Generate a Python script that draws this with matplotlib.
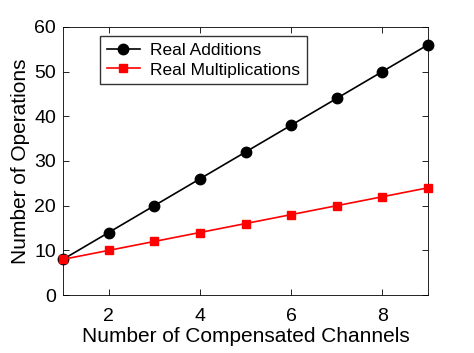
import matplotlib
matplotlib.use("Agg")
import matplotlib.pyplot as plt

plt.rcParams["font.family"] = ["Liberation Sans", "DejaVu Sans"]

channels = [1, 2, 3, 4, 5, 6, 7, 8, 9]
additions = [8, 14, 20, 26, 32, 38, 44, 50, 56]
multiplications = [8, 10, 12, 14, 16, 18, 20, 22, 24]

fig = plt.figure(figsize=(4.74, 3.53), dpi=100)
ax = fig.add_axes([0.133, 0.164, 0.770, 0.760])

ax.plot(channels, additions, color="black", marker="o", markersize=7.5,
        linewidth=1.2, label="Real Additions", clip_on=False, zorder=3)
ax.plot(channels, multiplications, color="red", marker="s", markersize=6,
        linewidth=1.2, label="Real Multiplications", clip_on=False, zorder=4)

ax.set_xlim(1, 9)
ax.set_ylim(0, 60)
ax.set_xticks([2, 4, 6, 8])
ax.set_yticks(range(0, 61, 10))
ax.tick_params(direction="in", top=True, right=True, labelsize=14, length=4, width=0.6)
ax.tick_params(axis="x", pad=9)
ax.tick_params(axis="y", pad=5)
for s in ax.spines.values():
    s.set_linewidth(0.6)

ax.set_xlabel("Number of Compensated Channels", fontsize=15, labelpad=2)
ax.set_ylabel("Number of Operations", fontsize=15, labelpad=3)

leg = ax.legend(loc="upper left", bbox_to_anchor=(0.101, 0.966), borderaxespad=0,
                fontsize=12.5, fancybox=False, framealpha=1, edgecolor="#333333",
                handlelength=1.9, handletextpad=0.6, borderpad=0.4, labelspacing=0.25)
leg.get_frame().set_linewidth(1.0)

fig.savefig("out.png", dpi=100)
